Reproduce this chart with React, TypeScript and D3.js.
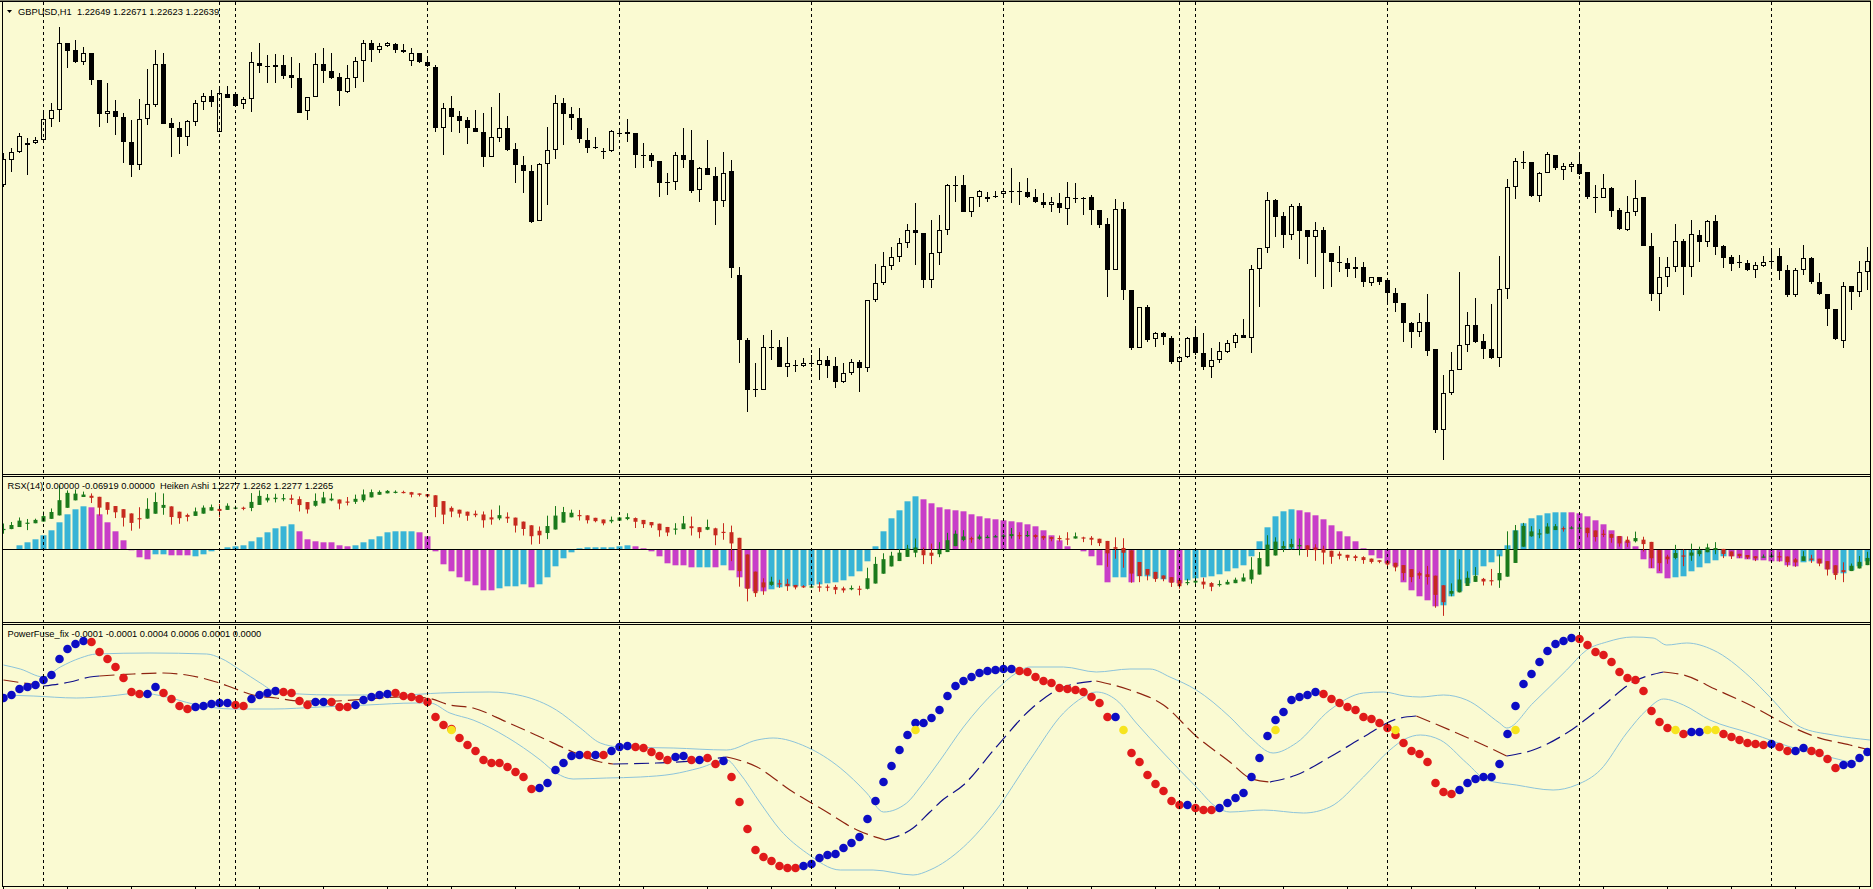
import React from "react";
import * as d3 from "d3";

// ---------- chart frame ----------
const W = 1873;
const H = 889;
const BG = "#FAFAD2";

// ---------- main window: GBPUSD H1 candles (price in pips above 1.1524) ----------
const PRICE_BASE = 1.1524;
const OPEN = [
  815,840,848,855,857,860,881,890,957,950, 938,947,920,886,889,883,858,835,881,895,
  936,877,872,863,878,898,904,868,906,906, 896,901,937,934,935,935,925,922,889,903,
  936,929,923,908,922,939,957,950,954,956, 950,939,947,938,933,872,892,884,880,872,
  868,843,862,872,851,835,829,779,836,850, 897,886,882,860,853,849,849,867,868,867,
  845,845,839,818,818,845,840,810,832,824, 799,829,725,660,611,610,653,653,633,635,
  634,637,635,640,634,618,627,638,632,700, 717,734,743,757,770,767,720,747,770,815,
  815,788,803,801,804,806,809,809,808,803, 798,795,797,791,802,802,803,790,776,730,
  791,710,652,693,661,667,662,638,643,663, 647,633,640,648,657,665,662,731,752,800,
  784,765,794,770,763,770,747,738,737,731, 733,717,723,720,707,697,677,668,678,651,
  570,607,630,655,675,659,651,642,711,813, 838,838,804,827,845,830,833,836,828,803,
  802,812,790,770,788,803,754,706,723,733, 759,733,765,758,779,754,743,738,737,730,
  734,739,744,730,705,730,742,718,706,691, 659,714,708,728,
];
const HIGH = [
  847,852,867,862,863,887,897,973,957,960, 953,947,920,917,900,887,880,901,931,950,
  947,882,878,880,900,907,910,912,914,906, 903,948,957,945,946,945,943,937,903,947,
  952,947,927,935,943,960,960,957,958,957, 956,952,947,943,935,897,904,889,883,890,
  887,893,907,884,857,844,835,837,873,905, 902,893,892,872,863,852,870,869,881,867,
  857,847,839,827,848,872,870,833,860,833, 848,840,733,662,637,665,670,660,663,640,
  642,645,652,644,643,637,641,640,700,736, 748,753,762,776,797,767,780,785,816,824,
  825,803,810,808,809,812,832,818,822,811, 807,803,807,818,817,803,805,790,782,801,
  798,710,693,695,668,668,664,643,663,672, 667,652,658,660,667,681,735,752,808,801,
  788,796,797,770,778,773,747,754,742,743, 738,723,723,720,712,697,678,687,706,651,
  625,648,728,688,702,666,696,744,821,842, 849,838,828,848,845,837,838,847,828,815,
  826,813,792,804,820,803,767,743,743,776, 761,780,770,780,785,755,745,745,740,738,
  744,752,752,735,732,755,743,727,706,691, 718,714,739,753,
];
const LOW = [
  813,828,847,825,856,858,873,878,932,937, 935,915,873,877,865,837,823,830,875,893,
  876,843,846,854,874,890,893,868,902,894, 891,888,927,917,917,921,912,887,880,903,
  917,921,894,907,912,918,938,947,953,947, 947,934,937,933,868,845,868,867,856,868,
  833,843,858,849,817,807,777,779,795,841, 855,870,857,847,851,841,848,865,858,832,
  832,833,803,805,810,832,807,798,825,775, 793,722,637,588,603,610,640,633,623,628,
  633,633,620,622,612,617,625,608,628,698, 715,730,738,752,735,712,712,735,765,798,
  788,783,793,798,802,802,797,795,802,797, 792,788,787,775,797,785,775,772,703,730,
  700,650,652,658,653,655,636,630,642,645, 630,622,637,647,652,662,647,693,747,763,
  752,760,741,736,723,711,713,728,723,722, 713,714,715,695,688,658,652,663,644,567,
  540,605,630,648,657,641,641,633,701,801, 831,803,798,827,830,820,828,825,801,787,
  802,783,770,769,784,754,699,689,713,728, 705,723,738,753,745,732,729,732,729,722,
  733,732,720,703,703,725,716,705,674,660, 652,690,703,710,
];
const CLOSE = [
  841,848,864,857,860,881,890,957,949,938, 947,920,886,889,883,858,835,881,896,936,
  876,872,863,879,897,904,898,907,902,894, 901,938,934,934,933,924,922,887,903,936,
  929,922,909,922,939,957,950,954,957,950, 948,947,938,934,872,892,883,879,872,868,
  843,863,872,850,835,829,778,836,850,897, 886,882,861,852,852,848,869,867,866,845,
  845,839,817,818,845,840,809,832,825,799, 827,732,660,610,611,653,652,633,637,635,
  637,637,640,634,618,627,638,632,700,717, 734,743,757,770,767,720,747,770,815,815,
  788,803,809,803,804,809,809,809,803,798, 795,798,792,803,802,802,790,775,730,791,
  710,652,693,660,667,663,638,643,662,647, 633,640,649,657,665,662,731,752,800,783,
  765,794,769,763,770,747,738,738,731,733, 718,723,718,707,697,677,668,678,649,570,
  607,630,655,675,658,651,642,711,813,839, 838,804,827,846,832,834,836,826,803,803,
  812,789,771,788,802,754,706,723,733,759, 733,766,758,779,753,742,736,738,730,735,
  738,739,729,705,730,742,718,706,691,661, 714,708,728,739,
];

// day separators (bar index of each session start)
const SEPARATOR_BARS = [5, 27, 29, 53, 77, 101, 125, 147, 149, 173, 197, 221];

// ---------- RSX(14) histogram (x 0.001) ----------
const RSX_HIST = [
  0,0,4,7,10,14,19,27,35,40, 43,42,35,27,18,9,-1,-8,-10,-5,
  -5,-6,-6,-6,-7,-5,-2,0,2,3, 4,8,12,17,21,23,25,18,10,8,
  7,7,4,3,4,7,10,13,17,18, 18,18,17,13,-2,-15,-22,-28,-32,-36,
  -41,-41,-39,-37,-37,-35,-38,-35,-28,-17, -9,-3,1,2,2,2,2,3,4,3,
  1,-2,-7,-14,-16,-16,-18,-18,-18,-18, -16,-21,-28,-39,-42,-42,-40,-38,-37,-37,
  -37,-36,-35,-34,-33,-31,-27,-22,-12,3, 18,31,39,48,53,50,46,42,40,39,
  38,35,33,31,30,29,28,27,25,23, 19,14,9,3,0,-2,-7,-16,-33,-28,
  -28,-33,-27,-27,-29,-30,-33,-34,-31,-29, -28,-27,-25,-22,-19,-16,-7,8,22,33,
  38,40,39,37,34,30,24,18,13,8, 1,-6,-9,-14,-17,-33,-41,-47,-51,-57,
  -56,-47,-42,-34,-26,-17,-13,-7,4,19, 26,31,34,36,37,37,37,36,33,29,
  25,19,13,8,3,-10,-19,-24,-29,-28, -27,-22,-18,-14,-11,-7,-7,-9,-10,-11,
  -11,-12,-12,-16,-17,-13,-12,-14,-20,-24, -24,-21,-17,-12,
];
// c = rising (aqua), m = falling (magenta), as run lengths
const RSX_STATE_RUNS: [string, number][] = [
  ["c",11],["m",8],["c",2],["m",3],["c",13],["m",7],["c",8],["m",10],["c",4],["m",1],
  ["c",12],["m",8],["c",2],["m",1],["c",1],["m",5],["c",19],["m",24],["c",2],["m",1],
  ["c",4],["m",2],["c",14],["m",18],["c",16],["m",13],["c",7],["m",9],["c",2],["m",3],["c",4],
];

// ---------- PowerFuse_fix (x 0.00001) ----------
const PF_VALUES: (number | null)[] = [
  32,35,41,43,45,50,55,71,81,86, 89,88,78,71,63,52,38,36,36,43,
  37,31,24,21,23,24,26,27,27,25, 24,31,35,37,39,38,37,29,25,28,
  28,28,23,23,25,30,33,35,36,37, 34,33,31,28,13,5,1,-8,-15,-21,
  -30,-33,-33,-37,-42,-47,-59,-58,-53,-40, -33,-26,-25,-25,-25,-25,-21,-17,-16,-17,
  -18,-22,-26,-30,-27,-26,-30,-30,-28,-34, -31,-47,-72,-99,-120,-127,-131,-136,-138,-138,
  -136,-134,-128,-125,-124,-118,-113,-107,-89,-71, -52,-36,-20,-5,7,7,12,20,34,44,
  49,53,57,59,60,61,61,59,58,53, 49,47,42,41,40,38,33,27,13,13,
  null,-23,-32,-45,-54,-61,-71,-75,-75,-78, -80,-80,-78,-73,-68,-63,-47,-28,-6,10,
  18,30,33,35,38,36,31,27,23,20, 13,11,7,2,-5,-13,-21,-24,-32,-53,
  -62,-64,-60,-53,-49,-47,-47,-34,-4,24, 46,56,68,79,86,89,92,91,85,78,
  75,68,58,52,50,39,19,8,2,null, -4,-2,-2,null,null,-4,-7,-10,-13,-14,
  -15,-14,-17,-21,-21,-18,-21,-23,-29,-38, -35,-34,-28,-22,
];
// b = up (blue), r = down (red), y = no trend dot
const PF_STATE_RUNS: [string, number][] = [
  ["b",11],["r",7],["b",2],["r",4],["b",5],["r",2],["b",4],["r",4],["b",2],["r",3],
  ["b",5],["r",18],["b",6],["r",1],["b",1],["r",1],["b",3],["r",5],["b",2],["r",1],
  ["b",1],["r",2],["b",1],["r",9],["b",27],["r",12],["b",1],["y",1],["r",7],["b",1],
  ["r",3],["b",13],["r",17],["b",15],["r",12],["y",1],["r",1],["b",2],["y",2],["r",6],
  ["b",1],["r",2],["b",2],["r",4],["b",4],
];
const PF_ZERO_CROSS_BARS = [56, 114, 140, 159, 174, 189, 209, 213, 214];

const SIGNAL_BARS = [
  0,5,8.3,10.8,12,16.2,20,22.9,26.6,28.7,31.2,34.1,37,41.2,45.4,49.6,52.9,55.8,58.7,62.9,
  67.1,71.2,74.6,76.2,81.6,86.2,90.4,94.2,98.3,102.5,106.7,110.2,113.7,115.8,117.1,120,124.1,128.3,132.5,136.6,
  140.8,145,149.2,153.3,155.8,158.3,161.6,165.8,170,174.1,176.6,180.8,185,187.9,191.2,195.4,199.6,203.7,207.5,210,
  214.2,218.3,222.5,226.6,230.8,233.3,
];
const SIGNAL_VALUES = [
  50,44,48,53,54,56,57,55,48,42,35,32,29,29,31,33,32,25,22,8,
  -7,-22,-32,-34,-33,-31,-27,-37,-60,-80,-100,-110,-98,-82,-72,-55,-17,20,43,49,
  40,25,-7,-32,-48,-52,-45,-27,-7,11,14,0,-15,-26,-20,-3,22,48,58,55,
  40,25,7,-7,-15,-20,
];
// trend of each signal segment: u = up (blue), d = down (brown)
const SIGNAL_TREND_RUNS: [string, number][] = [
  ["d",1],["u",3],["d",19],["u",3],["d",5],["u",8],["d",6],["u",5],["d",3],["u",5],["d",7],
];

const UPPER_BARS = [
  0,2.1,5,7.1,9.6,11.6,18.3,25.4,27.1,29.6,32.1,34.1,37,41.2,49.6,54.6,60.8,64.9,69.1,72.1,
  74.6,77.1,83.7,90.4,94.2,96.2,100.4,104.6,107.9,110,112.9,114.6,117.1,120,124.1,126.6,128.3,132.5,136.6,140.8,
  143.3,145.8,149.1,153.3,155.8,158.7,161.6,165.8,170,172.5,175.2,177.1,180,182.9,187,187.9,191.2,195.4,197.9,200.4,
  203.7,206.2,207.9,210.4,213.7,218.3,220.8,224.6,228.7,233.3,
];
const UPPER_VALUES = [
  65,61,53,63,72,76,77,76,72,60,47,38,36,35,35,37,38,34,20,2,
  -13,-17,-18,-20,-10,-8,-17,-38,-63,-82,-73,-57,-30,3,40,57,63,63,58,61,
  61,53,40,13,-7,-23,-13,20,37,38,34,33,35,30,7,2,27,60,80,88,
  93,92,85,87,80,53,33,3,-5,-10,
];
const LOWER_BARS = [
  0,3.7,9.1,13.3,17.1,20.4,23.7,28.7,33.7,39.6,45.4,51.6,53.3,55.8,58.7,62.9,67.1,69.1,71.2,75.4,
  79.6,83.7,87,90.4,92,94.6,97.1,100.4,104.6,108.7,113.7,115.8,120,124.1,128.3,132.5,135,136.6,139.1,141.6,
  145,149.1,151.6,153.3,157.5,162.5,165.8,170,173.3,175.2,177.1,179.6,182.9,185.4,189.1,193.7,196.6,199.6,202.9,205.4,
  207.5,210,213.3,218.3,224.6,228.7,231.2,233.3,
];
const LOWER_VALUES = [
  35,34,32,34,37,33,26,21,21,23,25,27,27,17,10,-7,-30,-43,-49,-48,
  -47,-44,-38,-30,-43,-73,-100,-123,-140,-140,-145,-140,-117,-80,-30,17,33,38,30,7,
  -23,-57,-77,-82,-80,-83,-77,-47,-20,-9,-5,-10,-33,-50,-55,-60,-55,-40,-3,20,
  31,25,10,-3,-20,-28,-32,-20,
];

// ---------- legends ----------
const MAIN_LEGEND = "GBPUSD,H1  1.22649 1.22671 1.22623 1.22639";
const RSX_LEGEND = "RSX(14) 0.00000 -0.06919 0.00000  Heiken Ashi 1.2277 1.2262 1.2277 1.2265";
const PF_LEGEND = "PowerFuse_fix -0.0001 -0.0001 0.0004 0.0006 0.0001 0.0000";

const expand = (r: [string, number][]) => r.flatMap(([c, n]) => Array(n).fill(c) as string[]);

export default function App() {
  const n = CLOSE.length;
  const FONT = "'Liberation Sans', Arial, sans-serif";

  // panels
  const main = { top: 2, bottom: 474.5 };
  const rsx = { top: 477, bottom: 622.5 };
  const pf = { top: 625, bottom: 886.5 };

  const x = d3.scaleLinear().domain([0, n - 1]).range([3.5, 3.5 + 8 * (n - 1)]);
  const yMain = d3.scaleLinear().domain([526, 998]).range([474, 2]);
  const yRsx = d3.scaleLinear().domain([-73, 72]).range([622.3, 477.3]);
  const yHA = d3.scaleLinear().domain([610, 955]).range([594.8, 491]);
  const yPF = d3.scaleLinear().domain([-156, 105]).range([886, 625]);

  // Heiken Ashi from the candles
  const ha: { o: number; h: number; l: number; c: number }[] = [];
  for (let i = 0; i < n; i++) {
    const c = (OPEN[i] + HIGH[i] + LOW[i] + CLOSE[i]) / 4;
    const o = i === 0 ? (OPEN[0] + CLOSE[0]) / 2 : (ha[i - 1].o + ha[i - 1].c) / 2;
    ha.push({ o, c, h: Math.max(HIGH[i], o, c), l: Math.min(LOW[i], o, c) });
  }

  const rsxState = expand(RSX_STATE_RUNS);
  const pfState = expand(PF_STATE_RUNS);
  const sigTrend = expand(SIGNAL_TREND_RUNS);

  const lineGen = d3
    .line<[number, number]>()
    .x((d) => x(d[0]))
    .y((d) => yPF(d[1]))
    .curve(d3.curveMonotoneX);

  const bandPath = (bars: number[], vals: number[]) =>
    lineGen(bars.map((b, i) => [b, vals[i]] as [number, number])) || "";

  // signal runs split by trend
  const signalRuns: { trend: string; pts: [number, number][] }[] = [];
  for (let k = 0; k < sigTrend.length; k++) {
    const t = sigTrend[k];
    const last = signalRuns[signalRuns.length - 1];
    if (last && last.trend === t) {
      last.pts.push([SIGNAL_BARS[k + 1], SIGNAL_VALUES[k + 1]]);
    } else {
      signalRuns.push({
        trend: t,
        pts: [
          [SIGNAL_BARS[k], SIGNAL_VALUES[k]],
          [SIGNAL_BARS[k + 1], SIGNAL_VALUES[k + 1]],
        ],
      });
    }
  }

  const CYAN = "#38b4d6";
  const MAGENTA = "#c83ec8";
  const HA_UP = "#1b7a1b";
  const HA_DN = "#c62a1e";
  const DOT_BLUE = "#0c0cc4";
  const DOT_RED = "#e01a1a";
  const DOT_YEL = "#f6e41e";

  return (
    <div style={{ position: "fixed", left: 0, top: 0, width: W, height: H, background: BG }}>
      <svg width={W} height={H} viewBox={`0 0 ${W} ${H}`} style={{ display: "block" }}>
        <defs>
          <clipPath id="cMain"><rect x={2} y={main.top} width={1868} height={main.bottom - main.top} /></clipPath>
          <clipPath id="cRsx"><rect x={2} y={rsx.top} width={1868} height={rsx.bottom - rsx.top} /></clipPath>
          <clipPath id="cPf"><rect x={2} y={pf.top} width={1868} height={pf.bottom - pf.top} /></clipPath>
        </defs>
        <rect x={0} y={0} width={W} height={H} fill={BG} />

        {/* ---- main candles ---- */}
        <g clipPath="url(#cMain)">
          {CLOSE.map((c, i) => {
            const o = OPEN[i];
            const cx = x(i);
            const yt = yMain(Math.max(o, c));
            const yb = yMain(Math.min(o, c));
            const wick = (
              <line x1={cx} x2={cx} y1={yMain(HIGH[i])} y2={yMain(LOW[i])} stroke="#000" strokeWidth={1} />
            );
            let body;
            if (c === o) {
              body = <line x1={cx - 2.5} x2={cx + 2.5} y1={yt + 0.5} y2={yt + 0.5} stroke="#000" strokeWidth={1} />;
            } else if (c > o) {
              body = (
                <rect x={cx - 2} y={yt + 0.5} width={4} height={Math.max(1, yb - yt - 1)} fill={BG} stroke="#000" strokeWidth={1} />
              );
            } else {
              body = <rect x={cx - 2.5} y={yt} width={5} height={Math.max(1, yb - yt)} fill="#000" />;
            }
            return (
              <g key={i}>
                {wick}
                {body}
              </g>
            );
          })}
        </g>

        {/* ---- RSX histogram + Heiken Ashi ---- */}
        <g clipPath="url(#cRsx)">
          {RSX_HIST.map((v, i) => {
            if (v === 0) return null;
            const y0 = yRsx(0);
            const y1 = yRsx(v);
            return (
              <rect
                key={i}
                x={x(i) - 3}
                y={Math.min(y0, y1)}
                width={6}
                height={Math.abs(y1 - y0)}
                fill={rsxState[i] === "c" ? CYAN : MAGENTA}
              />
            );
          })}
          <line x1={2} x2={1870} y1={549.5} y2={549.5} stroke="#000" strokeWidth={1} />
          {ha.map((d, i) => {
            const col = d.c >= d.o ? HA_UP : HA_DN;
            const cx = x(i);
            const yt = yHA(Math.max(d.o, d.c));
            const yb = yHA(Math.min(d.o, d.c));
            return (
              <g key={i}>
                <line x1={cx} x2={cx} y1={yHA(d.h)} y2={yHA(d.l)} stroke={col} strokeWidth={1} />
                <rect x={cx - 2} y={yt} width={4} height={Math.max(1.2, yb - yt)} fill={col} />
              </g>
            );
          })}
        </g>

        {/* ---- PowerFuse ---- */}
        <g clipPath="url(#cPf)">
          <path d={bandPath(UPPER_BARS, UPPER_VALUES)} fill="none" stroke="#8cc3da" strokeWidth={1} />
          <path d={bandPath(LOWER_BARS, LOWER_VALUES)} fill="none" stroke="#8cc3da" strokeWidth={1} />
          {signalRuns.map((r, k) => (
            <path
              key={k}
              d={lineGen(r.pts) || ""}
              fill="none"
              stroke={r.trend === "u" ? "#10108a" : "#8e2410"}
              strokeWidth={1.2}
              strokeDasharray="15,6"
            />
          ))}
          {PF_VALUES.map((v, i) =>
            v === null || pfState[i] === "y" ? null : (
              <circle key={i} cx={x(i)} cy={yPF(v)} r={4.3} fill={pfState[i] === "b" ? DOT_BLUE : DOT_RED} />
            )
          )}
          {PF_ZERO_CROSS_BARS.map((b) => (
            <circle key={"y" + b} cx={x(b)} cy={yPF(0)} r={4.3} fill={DOT_YEL} />
          ))}
        </g>

        {/* ---- day separators ---- */}
        {SEPARATOR_BARS.map((b) => (
          <line key={b} x1={x(b)} x2={x(b)} y1={2} y2={886} stroke="#000" strokeWidth={1} strokeDasharray="3,3" />
        ))}

        {/* ---- frames ---- */}
        <line x1={0} x2={1871} y1={1.25} y2={1.25} stroke="#000" strokeWidth={1.5} />
        <line x1={2.5} x2={2.5} y1={1} y2={887} stroke="#000" strokeWidth={1} />
        <line x1={1870.5} x2={1870.5} y1={1} y2={887} stroke="#000" strokeWidth={1} />
        <line x1={2} x2={1871} y1={474.5} y2={474.5} stroke="#000" strokeWidth={1} />
        <line x1={2} x2={1871} y1={476.5} y2={476.5} stroke="#000" strokeWidth={1} />
        <line x1={2} x2={1871} y1={622.5} y2={622.5} stroke="#000" strokeWidth={1} />
        <line x1={2} x2={1871} y1={624.5} y2={624.5} stroke="#000" strokeWidth={1} />
        <line x1={2} x2={1871} y1={886.5} y2={886.5} stroke="#000" strokeWidth={1} />
        {d3.range(0, n, 8).map((b) => (
          <line key={"t" + b} x1={x(b)} x2={x(b)} y1={886.5} y2={889} stroke="#000" strokeWidth={1} />
        ))}

        {/* ---- legends ---- */}
        <path d="M7,10 L12,10 L9.5,13 Z" fill="#000" />
        <text x={18} y={15} fontFamily={FONT} fontSize={9.3} fill="#000" style={{ whiteSpace: "pre" }}>
          {MAIN_LEGEND}
        </text>
        <text x={7.5} y={488.5} fontFamily={FONT} fontSize={9.3} fill="#000" style={{ whiteSpace: "pre" }}>
          {RSX_LEGEND}
        </text>
        <text x={7.5} y={636.5} fontFamily={FONT} fontSize={9.3} fill="#000" style={{ whiteSpace: "pre" }}>
          {PF_LEGEND}
        </text>
      </svg>
    </div>
  );
}
